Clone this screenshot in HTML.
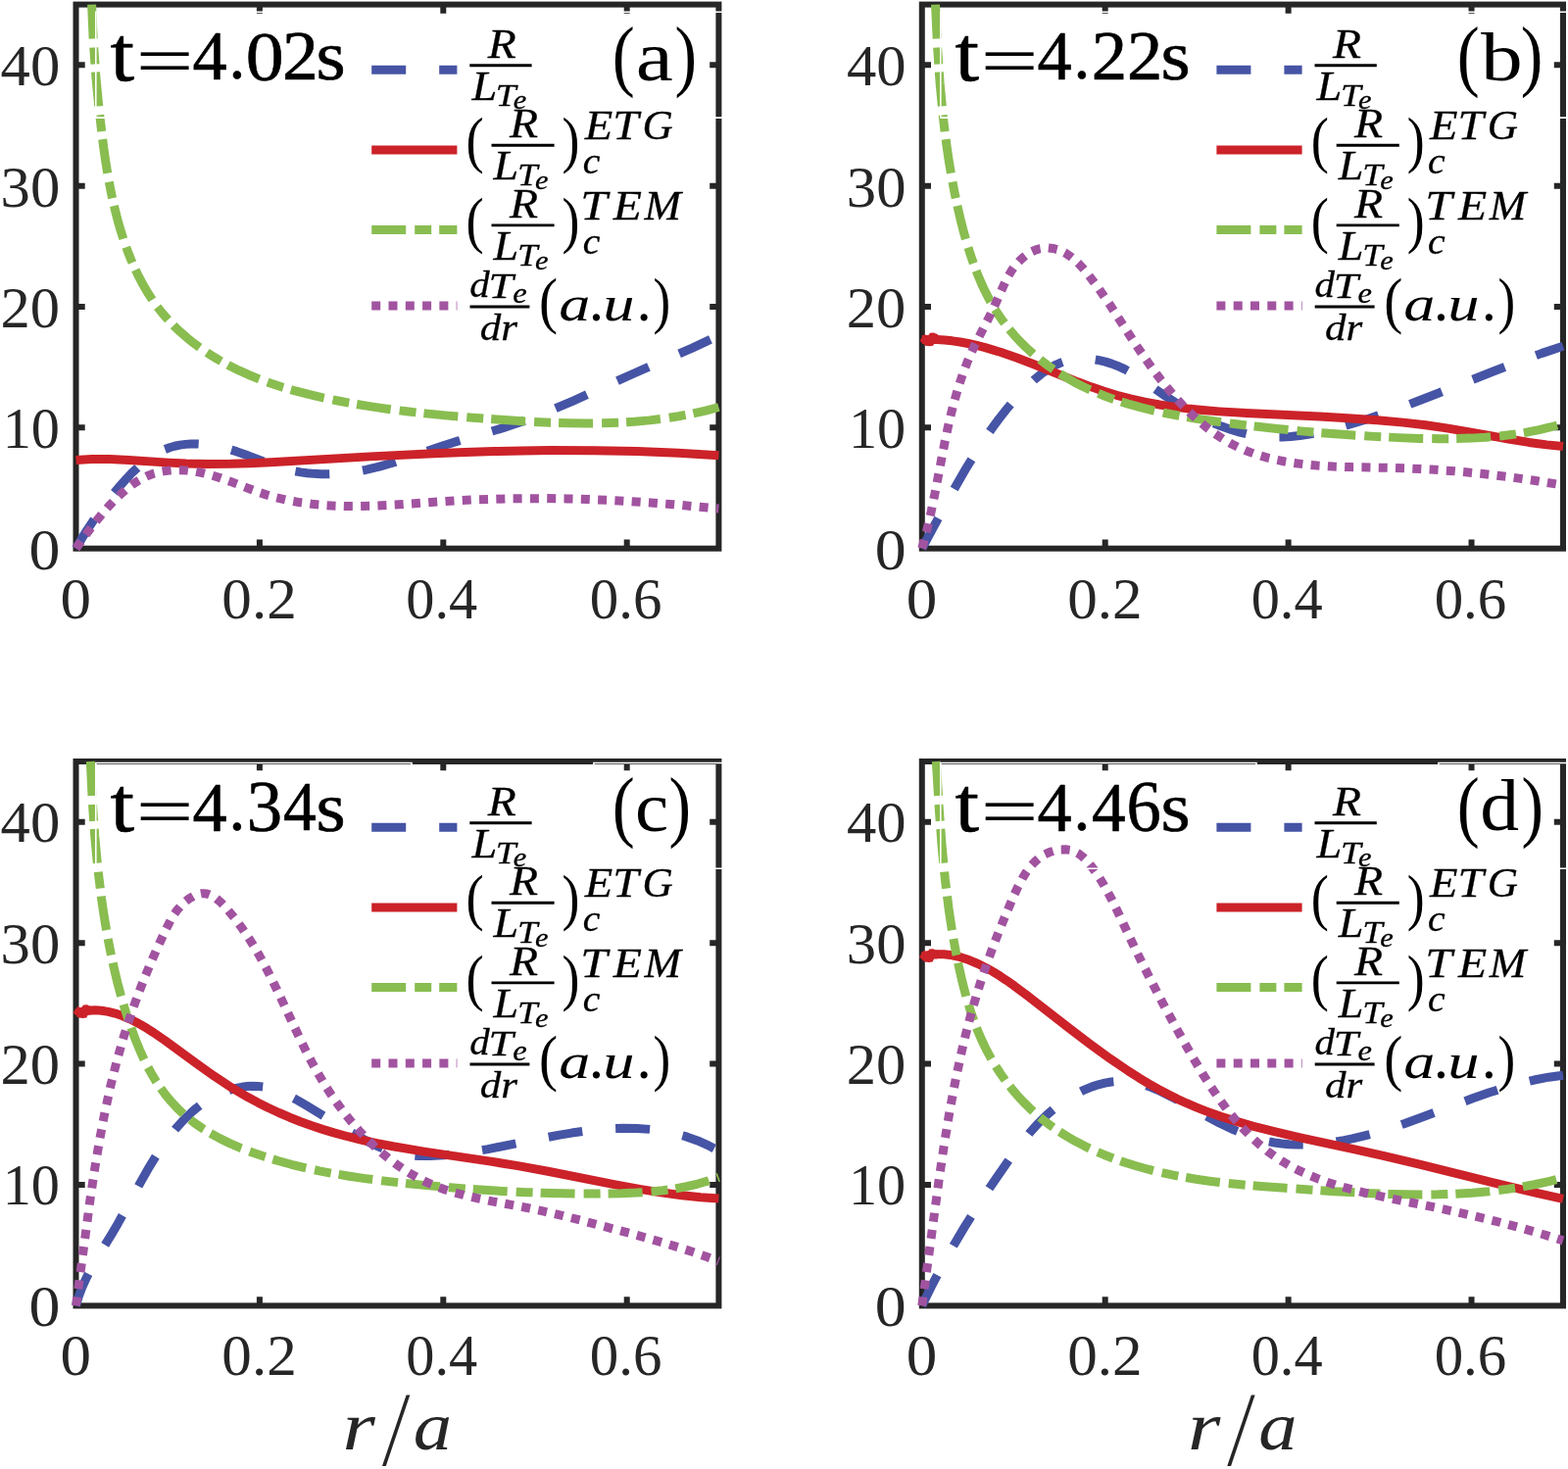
<!DOCTYPE html>
<html><head><meta charset="utf-8"><title>Figure</title>
<style>html,body{margin:0;padding:0;background:#fff;width:1600px;height:1499px;overflow:hidden}svg{display:block}</style>
</head><body>
<svg width="1600" height="1499" viewBox="0 0 1600 1499" font-family="'Liberation Serif', 'Times New Roman', serif">
<rect width="1600" height="1499" fill="#fff"/>
<rect x="77.5" y="4.6" width="655.9" height="555.1" fill="none" stroke="#262626" stroke-width="6"/>
<path d="M77.5,436.34h9.2M733.4,436.34h-9.2M77.5,312.99h9.2M733.4,312.99h-9.2M77.5,189.63h9.2M733.4,189.63h-9.2M77.5,66.28h9.2M733.4,66.28h-9.2M264.9,559.7v-9.2M264.9,4.6v9.2M452.3,559.7v-9.2M452.3,4.6v9.2M639.7,559.7v-9.2M639.7,4.6v9.2" stroke="#262626" stroke-width="6" fill="none"/>
<g fill="none" stroke-width="9.0" stroke-linejoin="round">
<path d="M77.5,559.7 83.34,549.74 89.13,540.44 95.1,531.42 101.3,522.59 108.01,513.59 115.31,504.36 122.78,495.41 129.39,488.01 135.23,481.97 140.73,476.74 146.15,472.09 151.74,467.81 157.21,464.16 162.54,461.14 167.68,458.71 172.97,456.73 178.04,455.27 183.56,454.12 189.17,453.37 194.85,452.99 200.6,452.96 206.76,453.29 212.95,453.96 219.51,455.02 230.06,457.38 241.19,460.68 251.43,464.3 275.79,473.58 288,477.64 293.99,479.27 300.39,480.72 306.83,481.87 313.32,482.74 320.2,483.36 327.48,483.7 334.77,483.74 342.45,483.46 350.13,482.87 357.8,482 365.44,480.85 373.42,479.36 387.07,476.19 401.58,472.01 414.17,467.88 453.1,454.43 467.84,449.9 499.58,440.78 513.28,436.66 527.9,431.85 543.4,426.21 562.84,418.48 584.81,409.07 645.85,381.52 706.38,355.07 733.4,342.5" stroke="#4654A5" stroke-dasharray="35 34"/>
<path d="M77.5,469.5 85.34,468.94 93.84,468.59 112.17,468.61 131.51,469.43 172.21,472.13 189.94,473.04 211.92,473.52 235.54,473.35 254.89,472.78 276.2,471.82 377.53,465.88 442.83,462.68 474.34,461.47 504.21,460.56 533.1,459.94 561.01,459.6 606.65,459.66 650.32,460.53 692.35,462.2 733.4,464.7" stroke="#CC2229"/>
<path d="M93.6,4.6 95.24,41.17 97.79,77.48 101.31,114.15 105.72,150.39 107.76,164.62 109.91,177.9 112.16,190.24 114.58,202.07 117.18,213.39 120.08,224.65 123.03,234.94 126.28,245.15 129.85,255.25 133.59,264.76 137.47,273.68 141.67,282.42 145.98,290.55 150.61,298.46 155.58,306.13 160.62,313.17 165.99,319.95 171.69,326.47 177.69,332.72 183.97,338.7 190.87,344.72 198.05,350.45 205.48,355.89 213.52,361.3 223,367.1 232.73,372.5 243.09,377.7 253.66,382.47 264.84,387.01 276.62,391.3 288.56,395.19 301.51,398.96 315.03,402.47 329.55,405.82 345.02,409.01 361.87,412.11 378.73,414.86 396.51,417.44 414.75,419.76 433.94,421.9 456.83,424.11 482.53,426.25 514.8,428.58 541.17,430.21 561.57,431.17 580.58,431.76 598.19,431.96 614.85,431.79 631.48,431.22 647.59,430.23 662.74,428.87 677.83,427.04 692.4,424.79 706.44,422.13 719.96,419.07 733.4,415.5" stroke="#89BD50" stroke-dasharray="35 9 17 8"/>
<path d="M77.5,559.7 85.38,548.65 92.49,539.07 99.33,530.32 105.9,522.37 112.11,515.33 117.87,509.31 123.6,503.81 129.28,498.91 134.88,494.61 140.36,490.94 146.01,487.73 151.51,485.16 157.16,483.1 162.94,481.54 169.17,480.42 175.5,479.79 183.27,479.65 191.12,480.12 199.36,481.21 207.94,482.91 216.47,485.11 225.24,487.85 234.89,491.3 262.83,501.92 271.73,504.87 280.7,507.44 292.75,510.28 305.23,512.57 318.14,514.32 331.83,515.56 342.49,516.15 353.89,516.46 365.68,516.48 378.21,516.22 403.01,515.07 459.39,511.21 486.61,509.77 522.07,508.74 558.11,508.6 578.52,508.92 599.26,509.51 620.35,510.38 641.78,511.52 663.93,512.96 686.46,514.68 733.4,519" stroke="#A153A0" stroke-dasharray="9 8.3"/>
</g>
<text transform="matrix(0.6381 0 0 0.5926 29.45 580.91)" font-size="100" fill="#262626">0</text>
<text transform="matrix(0.5829 0 0 0.5911 2.65 456.91)" font-size="100" fill="#262626">10</text>
<text transform="matrix(0.6055 0 0 0.5911 0.48 333.91)" font-size="100" fill="#262626">20</text>
<text transform="matrix(0.6066 0 0 0.5956 0.57 210.5)" font-size="100" fill="#262626">30</text>
<text transform="matrix(0.6064 0 0 0.5867 0.59 86.81)" font-size="100" fill="#262626">40</text>
<text transform="matrix(0.6310 0 0 0.5896 61.48 630.71)" font-size="100" fill="#262626">0</text>
<text transform="matrix(0.6113 0 0 0.5971 226.35 631)" font-size="100" fill="#262626">0.2</text>
<text transform="matrix(0.5833 0 0 0.5971 414.32 631)" font-size="100" fill="#262626">0.4</text>
<text transform="matrix(0.5890 0 0 0.5971 601.79 631)" font-size="100" fill="#262626">0.6</text>
<rect x="940.8" y="4.6" width="654.2" height="555.1" fill="none" stroke="#262626" stroke-width="6"/>
<path d="M940.8,436.34h9.2M1595.0,436.34h-9.2M940.8,312.99h9.2M1595.0,312.99h-9.2M940.8,189.63h9.2M1595.0,189.63h-9.2M940.8,66.28h9.2M1595.0,66.28h-9.2M1127.71,559.7v-9.2M1127.71,4.6v9.2M1314.63,559.7v-9.2M1314.63,4.6v9.2M1501.54,559.7v-9.2M1501.54,4.6v9.2" stroke="#262626" stroke-width="6" fill="none"/>
<g fill="none" stroke-width="9.0" stroke-linejoin="round">
<path d="M940.8,559.7 967.56,509.99 976.8,493.49 985.29,478.86 994.07,464.44 1002.76,450.92 1011.15,438.62 1019.28,427.52 1028.12,416.33 1037.27,405.71 1046.76,395.65 1055.38,387.47 1063.2,381.05 1070.73,375.91 1077.89,372.05 1081.4,370.53 1085.34,369.13 1090.8,367.66 1096.75,366.63 1102.77,366.13 1108.86,366.13 1114.97,366.62 1121.47,367.64 1127.93,369.14 1134.32,371.11 1139.14,372.91 1144.24,375.12 1149.24,377.58 1154.12,380.29 1163.92,386.48 1189.04,404.08 1204.51,414.09 1213.28,419.26 1221.58,423.78 1229.73,427.86 1238.07,431.64 1247.31,435.37 1256.33,438.52 1265.07,441.08 1273.91,443.16 1282.41,444.65 1290.55,445.58 1299.11,446.05 1308.06,446.02 1317.03,445.51 1326.38,444.52 1336.1,443.05 1346.58,441.02 1357.41,438.53 1369.32,435.4 1382.67,431.54 1396.65,427.18 1419.46,419.44 1444.97,410.05 1468.83,400.79 1523.69,378.97 1550.19,368.81 1573.59,360.39 1595,353.3" stroke="#4654A5" stroke-dasharray="35 34"/>
<path d="M940.8,346.6 948.52,346.4 956.18,346.55 963.78,347.02 971.66,347.83 979.8,349.01 987.88,350.49 996.56,352.41 1005.18,354.62 1020.72,359.29 1038.03,365.32 1054.93,371.8 1099.96,389.81 1113.5,394.85 1125.85,399.1 1139.57,403.29 1153.42,406.92 1168.03,410.15 1183.4,412.98 1197.22,415.08 1211.77,416.91 1227.38,418.51 1244.04,419.88 1276.46,421.85 1346.65,425.11 1375.66,426.67 1405.28,428.71 1431.84,431.12 1454.69,433.78 1476.15,436.86 1495.26,440.07 1539.38,448.03 1560.17,451.42 1578.38,453.86 1595,455.5" stroke="#CC2229"/>
<path d="M954.5,4.6 956.59,47.82 959.06,84.3 962.18,117.84 964,133.63 966.01,148.94 968.28,164.23 970.83,179.49 973.59,194.26 976.56,208.56 979.83,222.83 983.09,235.68 986.54,248.01 990.07,259.33 993.61,269.64 997.31,279.37 1001.14,288.5 1005.1,297.04 1009.37,305.37 1013.75,313.09 1018.46,320.59 1023.5,327.84 1028.88,334.84 1034.88,341.94 1040.88,348.43 1047.49,354.97 1054.39,361.22 1061.56,367.17 1068.98,372.82 1077.01,378.43 1086.47,384.41 1096.2,389.95 1106.16,395.02 1116.76,399.84 1127.57,404.21 1139.01,408.32 1151.08,412.15 1163.78,415.69 1176.62,418.84 1190.06,421.74 1204.07,424.39 1219.56,426.97 1236.98,429.53 1257.67,432.26 1280.59,435.02 1302.95,437.47 1327.57,439.88 1352.17,442 1376.79,443.82 1401.94,445.37 1427.22,446.62 1448.38,447.38 1467.71,447.71 1485.14,447.62 1501.14,447.12 1516.16,446.24 1530.66,444.94 1544.15,443.29 1557.57,441.17 1570.45,438.65 1582.77,435.73 1595,432.3" stroke="#89BD50" stroke-dasharray="35 9 17 8"/>
<path d="M940.8,559.7 945.53,542.05 950.1,522.28 954.2,502.32 964.07,451.22 967.29,436.02 970.35,422.81 974.22,407.85 978.3,393.99 982.57,381.23 987.19,369.1 990.96,360.25 995.04,351.52 1008.99,324.31 1013.51,315.11 1025.43,288.33 1029.01,281.46 1032.56,275.7 1035.99,271.02 1039.53,266.97 1043.45,263.22 1047.7,259.89 1052.23,257.08 1056.54,255.08 1061.02,253.68 1065.14,253.01 1069.79,252.91 1074.42,253.45 1078.97,254.59 1083.37,256.3 1087.57,258.5 1091.99,261.44 1096.57,265.16 1100.92,269.3 1105.06,273.76 1109.65,279.22 1120.76,293.89 1132.09,310.29 1156.32,347.66 1169.49,367.08 1176.74,377.16 1183.96,386.73 1191.13,395.73 1198.23,404.12 1206.58,413.31 1214.91,421.74 1223.17,429.37 1231.34,436.21 1239.79,442.54 1248.11,448.05 1256.69,453.01 1265.11,457.16 1272.01,460.11 1279.05,462.74 1286.66,465.2 1294.4,467.35 1302.73,469.31 1311.18,470.97 1320.21,472.43 1329.35,473.62 1343.95,475.01 1360.69,476.02 1378.03,476.62 1418.07,477.38 1437.04,477.95 1460.57,479.1 1484.35,480.76 1511.33,483.27 1538.87,486.51 1566.69,490.45 1595,495.1" stroke="#A153A0" stroke-dasharray="9 8.3"/>
<polygon points="938.4,347.8 943.4,341 946.6,343.1 949,339.7 953.1,339.4 954.9,340.6 956.9,340.9 956.9,349.7 953.8,349.4 952.2,352.8 948.4,353.3 944.4,352.8" fill="#CC2229" stroke="none"/>
</g>
<text transform="matrix(0.6381 0 0 0.5926 892.75 580.91)" font-size="100" fill="#262626">0</text>
<text transform="matrix(0.5829 0 0 0.5911 865.95 456.91)" font-size="100" fill="#262626">10</text>
<text transform="matrix(0.6055 0 0 0.5911 863.78 333.91)" font-size="100" fill="#262626">20</text>
<text transform="matrix(0.6066 0 0 0.5956 863.87 210.5)" font-size="100" fill="#262626">30</text>
<text transform="matrix(0.6064 0 0 0.5867 863.89 86.81)" font-size="100" fill="#262626">40</text>
<text transform="matrix(0.6310 0 0 0.5896 924.78 630.71)" font-size="100" fill="#262626">0</text>
<text transform="matrix(0.6113 0 0 0.5971 1089.17 631)" font-size="100" fill="#262626">0.2</text>
<text transform="matrix(0.5833 0 0 0.5971 1276.65 631)" font-size="100" fill="#262626">0.4</text>
<text transform="matrix(0.5890 0 0 0.5971 1463.64 631)" font-size="100" fill="#262626">0.6</text>
<rect x="77.5" y="777.0" width="655.9" height="555.4" fill="none" stroke="#262626" stroke-width="6"/>
<path d="M77.5,1208.98h9.2M733.4,1208.98h-9.2M77.5,1085.56h9.2M733.4,1085.56h-9.2M77.5,962.13h9.2M733.4,962.13h-9.2M77.5,838.71h9.2M733.4,838.71h-9.2M264.9,1332.4v-9.2M264.9,777.0v9.2M452.3,1332.4v-9.2M452.3,777.0v9.2M639.7,1332.4v-9.2M639.7,777.0v9.2" stroke="#262626" stroke-width="6" fill="none"/>
<g fill="none" stroke-width="9.0" stroke-linejoin="round">
<path d="M77.5,1332.4 80.17,1323.2 83.65,1313.88 88.07,1304.06 93.61,1293.38 100.22,1281.86 114.24,1258.83 120.5,1248.16 143.75,1205.82 152.29,1190.83 161.67,1175.63 170.69,1162.59 178.67,1152.4 186.97,1143.14 195.29,1135.14 199.52,1131.55 203.89,1128.15 208.41,1124.96 212.75,1122.19 217.23,1119.63 221.85,1117.27 226.61,1115.14 231.12,1113.4 236.1,1111.76 240.76,1110.5 246.65,1109.3 252.17,1108.57 257.7,1108.27 263.19,1108.4 268.23,1108.94 273.21,1109.9 278.49,1111.34 284.06,1113.29 293.52,1117.46 304.19,1123.11 313.6,1128.6 335.93,1142.28 350.76,1151.07 367.16,1160.42 378.54,1166.41 388.7,1171.05 398.36,1174.61 407.11,1176.98 416.46,1178.61 427.17,1179.52 439.2,1179.61 452.86,1178.86 468.4,1177.25 482.61,1175.24 497.91,1172.61 557.11,1160.7 571.01,1158.12 583.37,1156.07 597.78,1154.04 610.99,1152.59 623.79,1151.65 635.76,1151.24 650.05,1151.44 663.44,1152.39 676.32,1154.12 688.67,1156.63 700.49,1159.9 711.77,1163.92 722.86,1168.84 733.4,1174.5" stroke="#4654A5" stroke-dasharray="35 34"/>
<path d="M77.5,1034 83.77,1032.25 90.32,1031.19 96.8,1030.86 103.54,1031.24 110.52,1032.34 117.39,1034.07 124.79,1036.59 132.36,1039.79 138.25,1042.68 144.05,1045.84 150.08,1049.43 156.62,1053.62 168.59,1061.91 201.71,1086.22 218.89,1098.36 236.14,1109.68 244.4,1114.7 252.83,1119.54 263.26,1125.16 273.88,1130.48 284.68,1135.5 295.62,1140.21 306.36,1144.48 317.52,1148.55 329.09,1152.39 340.74,1155.91 354.8,1159.74 369.3,1163.27 384.55,1166.58 400.91,1169.77 432.79,1175.14 500.69,1185.16 529.93,1189.88 560.4,1195.5 626.62,1208.6 653.97,1213.57 675.93,1217.07 695.91,1219.73 714.95,1221.7 733.4,1223" stroke="#CC2229"/>
<path d="M92.35,777 94.23,816.61 96.66,852.38 99.75,885.68 103.5,916.53 105.74,931.9 108.16,946.78 110.76,961.15 113.62,975.48 116.65,989.31 119.86,1002.63 123.13,1014.97 126.68,1027.25 130.39,1038.99 134.26,1050.2 138.27,1060.87 142.41,1070.99 146.5,1080.08 150.7,1088.56 155,1096.41 159.38,1103.63 164.08,1110.61 169.11,1117.33 174.45,1123.76 180.12,1129.89 186.11,1135.68 192.07,1140.83 198.67,1145.96 205.54,1150.76 214.69,1156.44 224.19,1161.66 234.42,1166.64 245.35,1171.37 257.39,1176 270.05,1180.34 283.69,1184.52 297.4,1188.27 311.16,1191.62 325.89,1194.8 340.68,1197.61 356.44,1200.24 372.72,1202.62 390.44,1204.89 410.08,1207.1 432.59,1209.36 459.37,1211.76 485.73,1213.77 511.65,1215.4 537.12,1216.64 562.14,1217.49 587.15,1217.96 612.15,1218.02 633.82,1217.7 649.33,1217.08 663.39,1216.1 676.46,1214.74 689,1212.93 700.55,1210.75 712.03,1208.03 722.98,1204.83 733.4,1201.2" stroke="#89BD50" stroke-dasharray="35 9 17 8"/>
<path d="M77.5,1332.4 92.05,1223.58 96.8,1191.82 101.53,1163.57 107.1,1134.35 112.95,1107.55 119.33,1082.09 126.4,1057.42 131.07,1042.73 136.24,1027.6 141.74,1012.57 147.57,997.63 153.94,982.25 160.89,966.45 168.94,949.19 173.9,939.4 177.44,933.44 180.78,928.7 184.57,924.23 188.45,920.49 192.75,917.15 197.31,914.42 201.96,912.52 206.06,911.72 208.05,911.67 210.49,911.94 212.87,912.55 215.2,913.45 217.47,914.63 220.13,916.36 225.23,920.65 231.27,927.04 239.53,937.08 247.18,947.39 254.29,957.93 259.45,966.21 264.65,975.1 269.88,984.6 275.14,994.71 284.39,1013.63 306.37,1060.59 312.44,1072.89 318.26,1084.07 324.39,1095.14 330.89,1106.05 337.77,1116.76 344.69,1126.77 351.6,1136.04 358.83,1145.05 366.38,1153.74 373.85,1161.68 381.61,1169.27 389.23,1176.11 397.1,1182.6 405.25,1188.69 412.23,1193.46 418.92,1197.63 425.77,1201.52 432.78,1205.13 439.95,1208.44 446.75,1211.23 454.22,1213.94 462.38,1216.54 475.14,1220.03 489.82,1223.38 503.53,1226.11 536.68,1232.24 554.08,1235.85 573.41,1240.36 595.87,1246.04 646.02,1259.33 678.67,1268.6 693.5,1273.14 707.67,1277.75 720.61,1282.25 733.4,1287" stroke="#A153A0" stroke-dasharray="9 8.3"/>
<polygon points="74.5,1033.6 79.5,1026.8 82.7,1028.9 85.1,1025.5 89.2,1025.2 91,1026.4 93,1026.7 93,1035.5 89.9,1035.2 88.3,1038.6 84.5,1039.1 80.5,1038.6" fill="#CC2229" stroke="none"/>
</g>
<text transform="matrix(0.6381 0 0 0.5926 29.45 1353.31)" font-size="100" fill="#262626">0</text>
<text transform="matrix(0.5829 0 0 0.5911 2.65 1229.31)" font-size="100" fill="#262626">10</text>
<text transform="matrix(0.6055 0 0 0.5911 0.48 1106.31)" font-size="100" fill="#262626">20</text>
<text transform="matrix(0.6066 0 0 0.5956 0.57 982.9)" font-size="100" fill="#262626">30</text>
<text transform="matrix(0.6064 0 0 0.5867 0.59 859.21)" font-size="100" fill="#262626">40</text>
<text transform="matrix(0.6310 0 0 0.5896 61.48 1403.11)" font-size="100" fill="#262626">0</text>
<text transform="matrix(0.6113 0 0 0.5971 226.35 1403.4)" font-size="100" fill="#262626">0.2</text>
<text transform="matrix(0.5833 0 0 0.5971 414.32 1403.4)" font-size="100" fill="#262626">0.4</text>
<text transform="matrix(0.5890 0 0 0.5971 601.79 1403.4)" font-size="100" fill="#262626">0.6</text>
<rect x="940.8" y="777.0" width="654.2" height="555.4" fill="none" stroke="#262626" stroke-width="6"/>
<path d="M940.8,1208.98h9.2M1595.0,1208.98h-9.2M940.8,1085.56h9.2M1595.0,1085.56h-9.2M940.8,962.13h9.2M1595.0,962.13h-9.2M940.8,838.71h9.2M1595.0,838.71h-9.2M1127.71,1332.4v-9.2M1127.71,777.0v9.2M1314.63,1332.4v-9.2M1314.63,777.0v9.2M1501.54,1332.4v-9.2M1501.54,777.0v9.2" stroke="#262626" stroke-width="6" fill="none"/>
<g fill="none" stroke-width="9.0" stroke-linejoin="round">
<path d="M940.8,1332.4 950.37,1312.69 960.84,1292.64 972.05,1272.59 984.18,1252.16 997.88,1230.35 1013,1207.48 1029.79,1183.21 1041.89,1166.86 1050.65,1156.06 1059.39,1146.36 1068.11,1137.78 1076.79,1130.31 1086.06,1123.46 1095.27,1117.73 1104.63,1112.91 1114.35,1108.9 1120.84,1106.8 1127.41,1105.15 1134,1103.99 1140.21,1103.39 1146.4,1103.3 1152.14,1103.7 1158.2,1104.64 1164.2,1106.04 1169.4,1107.62 1174.93,1109.61 1180.78,1112.03 1186.94,1114.89 1199.5,1121.36 1230.95,1138.78 1244.38,1145.91 1259.01,1152.93 1272.08,1158.29 1279.45,1160.84 1286.55,1162.94 1293.74,1164.7 1300.66,1166.01 1308.07,1167.02 1315.56,1167.68 1323.52,1168 1331.52,1167.98 1339.15,1167.66 1346.78,1167.07 1354.78,1166.19 1363.14,1165 1371.43,1163.58 1380.03,1161.84 1397.81,1157.52 1414.95,1152.53 1433.41,1146.43 1452.46,1139.58 1503.39,1120.55 1519.09,1115.08 1533.4,1110.47 1549.74,1105.81 1565.52,1102.02 1580.35,1099.2 1595,1097.2" stroke="#4654A5" stroke-dasharray="35 34"/>
<path d="M940.8,976.2 944.33,975.23 948.2,974.44 955.58,973.64 963.25,973.72 971.53,974.76 980.01,976.74 988.63,979.59 997.98,983.49 1007.36,988.2 1013.77,991.85 1020.68,996.14 1027.47,1000.67 1035.05,1006.04 1048.56,1016.18 1091.57,1049.66 1111.92,1065.14 1132.81,1080.32 1151.7,1093.13 1162.2,1099.81 1172.21,1105.84 1182.04,1111.44 1191.7,1116.59 1201.17,1121.3 1210.78,1125.72 1220.52,1129.87 1230.72,1133.87 1245.73,1139.23 1262,1144.41 1279.16,1149.32 1298.24,1154.23 1325.56,1160.59 1383.6,1173.06 1411.49,1179.36 1446.42,1187.71 1540.49,1210.91 1569.01,1217.58 1595,1223.3" stroke="#CC2229"/>
<path d="M955.35,777 958.32,826.14 961.09,863.1 964.33,896.75 968.07,927.08 970.32,942.45 972.78,957.34 975.42,971.74 978.35,986.12 981.28,999.07 984.28,1011.02 987.47,1022.41 990.72,1032.78 994.12,1042.56 997.84,1052.19 1001.73,1061.23 1005.96,1070.08 1010.56,1078.74 1015.26,1086.79 1020.55,1095.01 1025.9,1102.61 1031.86,1110.34 1037.84,1117.43 1044.11,1124.26 1050.68,1130.81 1057.53,1137.06 1064.66,1143 1072.07,1148.62 1079.72,1153.93 1088.41,1159.42 1097.36,1164.56 1106.96,1169.56 1116.79,1174.19 1126.82,1178.48 1137.46,1182.59 1148.71,1186.49 1160.09,1190.03 1171.56,1193.22 1183.55,1196.18 1196.03,1198.88 1208.98,1201.34 1221.96,1203.46 1235.88,1205.42 1250.75,1207.2 1266.57,1208.8 1286.62,1210.5 1311.86,1212.33 1361.13,1215.64 1391.7,1217.39 1412.88,1218.3 1432.16,1218.83 1450.02,1219 1467.39,1218.81 1485.19,1218.22 1502.48,1217.18 1519.27,1215.71 1535.08,1213.84 1550.37,1211.56 1565.61,1208.77 1580.34,1205.55 1595,1201.8" stroke="#89BD50" stroke-dasharray="35 9 17 8"/>
<path d="M940.8,1332.4 958.6,1200.34 963.85,1165.17 968.98,1134.28 975.08,1101.81 981.65,1071.36 985.13,1056.82 988.84,1042.36 992.63,1028.56 996.48,1015.42 1001.3,1000.09 1006.45,984.86 1012.14,969.12 1018.17,953.36 1025.95,934.11 1034.21,914.67 1038.92,904.47 1043.23,896.33 1047.35,889.73 1051.56,884.12 1055.82,879.48 1060.52,875.42 1065.72,872.02 1070.92,869.57 1076.57,867.81 1081.88,866.92 1087.22,866.81 1091.85,867.43 1096.25,868.82 1100.83,871.29 1105.06,874.55 1109.4,878.87 1113.8,884.18 1118.93,891.29 1122.99,897.47 1126.78,903.73 1134.26,917.49 1139.54,928.22 1152.94,956.85 1162.85,977.35 1174.16,999.92 1185.82,1022.35 1196.36,1041.95 1207.43,1061.9 1218.14,1080.61 1227.03,1095.48 1235.36,1108.61 1243.47,1120.51 1251.71,1131.68 1259.69,1141.63 1267.7,1150.76 1276.12,1159.48 1284.5,1167.27 1293.25,1174.52 1300.43,1179.8 1308.34,1184.99 1316.49,1189.76 1325.39,1194.39 1334.52,1198.6 1344.41,1202.65 1355.07,1206.51 1365.93,1209.99 1382.21,1214.54 1401.11,1219.08 1418.4,1222.77 1472.92,1233.81 1494.45,1238.56 1514.67,1243.33 1535.4,1248.57 1555.56,1254.03 1575.21,1259.75 1595,1265.9" stroke="#A153A0" stroke-dasharray="9 8.3"/>
<polygon points="937.8,976.6 942.8,969.8 946,971.9 948.4,968.5 952.5,968.2 954.3,969.4 956.3,969.7 956.3,978.5 953.2,978.2 951.6,981.6 947.8,982.1 943.8,981.6" fill="#CC2229" stroke="none"/>
</g>
<text transform="matrix(0.6381 0 0 0.5926 892.75 1353.31)" font-size="100" fill="#262626">0</text>
<text transform="matrix(0.5829 0 0 0.5911 865.95 1229.31)" font-size="100" fill="#262626">10</text>
<text transform="matrix(0.6055 0 0 0.5911 863.78 1106.31)" font-size="100" fill="#262626">20</text>
<text transform="matrix(0.6066 0 0 0.5956 863.87 982.9)" font-size="100" fill="#262626">30</text>
<text transform="matrix(0.6064 0 0 0.5867 863.89 859.21)" font-size="100" fill="#262626">40</text>
<text transform="matrix(0.6310 0 0 0.5896 924.78 1403.11)" font-size="100" fill="#262626">0</text>
<text transform="matrix(0.6113 0 0 0.5971 1089.17 1403.4)" font-size="100" fill="#262626">0.2</text>
<text transform="matrix(0.5833 0 0 0.5971 1276.65 1403.4)" font-size="100" fill="#262626">0.4</text>
<text transform="matrix(0.5890 0 0 0.5971 1463.64 1403.4)" font-size="100" fill="#262626">0.6</text>
<g transform="translate(0 0)">
<text transform="matrix(0.8846 0 0 0.7948 112.42 81.51)" font-size="100" stroke="#000" stroke-width="0.71" stroke-linejoin="round" fill="#000">t</text>
<text transform="matrix(1.0409 0 0 0.7040 138.85 86.28)" font-size="100" stroke="#000" stroke-width="0.34" stroke-linejoin="round" fill="#000">=</text>
<text transform="matrix(0.7032 0 0 0.7288 196.39 81.4)" font-size="100" stroke="#000" stroke-width="0.84" stroke-linejoin="round" fill="#000">4</text>
<text transform="matrix(0.6750 0 0 0.6667 233.41 80.4)" font-size="100" stroke="#000" stroke-width="0.89" stroke-linejoin="round" fill="#000">.</text>
<text transform="matrix(0.7786 0 0 0.7259 250.79 81.57)" font-size="100" stroke="#000" stroke-width="0.80" stroke-linejoin="round" fill="#000">0</text>
<text transform="matrix(0.7375 0 0 0.7288 287.88 81.4)" font-size="100" stroke="#000" stroke-width="0.82" stroke-linejoin="round" fill="#000">2</text>
<text transform="matrix(0.7746 0 0 0.7104 322.4 81.49)" font-size="100" stroke="#000" stroke-width="0.81" stroke-linejoin="round" fill="#000">s</text>
<text transform="matrix(0.6902 0 0 0.8022 624.69 82.55)" font-size="100" fill="#000">(</text>
<text transform="matrix(0.8557 0 0 0.7188 648.81 81.78)" font-size="100" fill="#000">a</text>
<text transform="matrix(0.6769 0 0 0.8022 688.47 82.55)" font-size="100" fill="#000">)</text>
<path d="M97.8,12.3H420V120.1H97.8ZM605.9,12.3H745V120.1H605.9Z" fill="none" stroke="#fff" stroke-width="1.6"/>
</g>
<g transform="translate(0 0)">
<path d="M379.2,71.3H466.4" stroke="#4654A5" stroke-width="9" stroke-dasharray="35 34"/>
<path d="M379.2,153.0H466.4" stroke="#CC2229" stroke-width="9"/>
<path d="M379.2,234.4H466.4" stroke="#89BD50" stroke-width="9" stroke-dasharray="35 9 17 8"/>
<path d="M379.2,312.1H466.4" stroke="#A153A0" stroke-width="9" stroke-dasharray="9 8.3"/>
<text transform="matrix(0.4750 0 0 0.4229 497.69 59.14)" font-size="100" font-style="italic" stroke="#000" stroke-width="0.67" stroke-linejoin="round" fill="#000">R</text>
<path d="M479.3,66.7H542.6" stroke="#000" stroke-width="2.9"/>
<text transform="matrix(0.4635 0 0 0.4229 481.41 101.75)" font-size="100" font-style="italic" stroke="#000" stroke-width="0.68" stroke-linejoin="round" fill="#000">L</text>
<text transform="matrix(0.3727 0 0 0.3169 505.83 107.55)" font-size="100" font-style="italic" stroke="#000" stroke-width="0.87" stroke-linejoin="round" fill="#000">T</text>
<text transform="matrix(0.3051 0 0 0.2792 523.83 110.87)" font-size="100" font-style="italic" stroke="#000" stroke-width="1.03" stroke-linejoin="round" fill="#000">e</text>
<text transform="matrix(0.5451 0 0 0.6244 475.45 163.89)" font-size="100" fill="#000">(</text>
<text transform="matrix(0.4767 0 0 0.4122 519.89 140.34)" font-size="100" font-style="italic" stroke="#000" stroke-width="0.68" stroke-linejoin="round" fill="#000">R</text>
<path d="M501.5,148.2H565.6" stroke="#000" stroke-width="2.9"/>
<text transform="matrix(0.4615 0 0 0.4198 503.61 183.15)" font-size="100" font-style="italic" stroke="#000" stroke-width="0.68" stroke-linejoin="round" fill="#000">L</text>
<text transform="matrix(0.3691 0 0 0.3215 527.95 189.45)" font-size="100" font-style="italic" stroke="#000" stroke-width="0.87" stroke-linejoin="round" fill="#000">T</text>
<text transform="matrix(0.3051 0 0 0.2792 546.03 192.87)" font-size="100" font-style="italic" stroke="#000" stroke-width="1.03" stroke-linejoin="round" fill="#000">e</text>
<text transform="matrix(0.5385 0 0 0.6244 573.58 163.89)" font-size="100" fill="#000">)</text>
<text transform="matrix(0.4661 0 0 0.4153 596.82 141.85)" font-size="100" font-style="italic" stroke="#000" stroke-width="0.68" stroke-linejoin="round" fill="#000">E</text>
<text transform="matrix(0.4745 0 0 0.4185 625.27 141.85)" font-size="100" font-style="italic" stroke="#000" stroke-width="0.67" stroke-linejoin="round" fill="#000">T</text>
<text transform="matrix(0.4326 0 0 0.4254 655.47 142.02)" font-size="100" font-style="italic" stroke="#000" stroke-width="0.70" stroke-linejoin="round" fill="#000">G</text>
<text transform="matrix(0.3975 0 0 0.3812 594.76 176.97)" font-size="100" font-style="italic" stroke="#000" stroke-width="0.77" stroke-linejoin="round" fill="#000">c</text>
<text transform="matrix(0.5451 0 0 0.6244 475.45 245.59)" font-size="100" fill="#000">(</text>
<text transform="matrix(0.4767 0 0 0.4122 519.89 222.04)" font-size="100" font-style="italic" stroke="#000" stroke-width="0.68" stroke-linejoin="round" fill="#000">R</text>
<path d="M501.5,229.9H565.6" stroke="#000" stroke-width="2.9"/>
<text transform="matrix(0.4615 0 0 0.4198 503.61 264.85)" font-size="100" font-style="italic" stroke="#000" stroke-width="0.68" stroke-linejoin="round" fill="#000">L</text>
<text transform="matrix(0.3691 0 0 0.3215 527.95 271.15)" font-size="100" font-style="italic" stroke="#000" stroke-width="0.87" stroke-linejoin="round" fill="#000">T</text>
<text transform="matrix(0.3051 0 0 0.2792 546.03 274.57)" font-size="100" font-style="italic" stroke="#000" stroke-width="1.03" stroke-linejoin="round" fill="#000">e</text>
<text transform="matrix(0.5385 0 0 0.6244 573.58 245.59)" font-size="100" fill="#000">)</text>
<text transform="matrix(0.4945 0 0 0.4231 592.14 223.85)" font-size="100" font-style="italic" stroke="#000" stroke-width="0.65" stroke-linejoin="round" fill="#000">T</text>
<text transform="matrix(0.4777 0 0 0.4198 625.73 223.85)" font-size="100" font-style="italic" stroke="#000" stroke-width="0.67" stroke-linejoin="round" fill="#000">E</text>
<text transform="matrix(0.4494 0 0 0.4198 657.6 223.85)" font-size="100" font-style="italic" stroke="#000" stroke-width="0.69" stroke-linejoin="round" fill="#000">M</text>
<text transform="matrix(0.3975 0 0 0.3812 594.76 258.67)" font-size="100" font-style="italic" stroke="#000" stroke-width="0.77" stroke-linejoin="round" fill="#000">c</text>
<text transform="matrix(0.4085 0 0 0.3872 479.22 303.46)" font-size="100" font-style="italic" stroke="#000" stroke-width="0.75" stroke-linejoin="round" fill="#000">d</text>
<text transform="matrix(0.4527 0 0 0.3569 498.61 303.85)" font-size="100" font-style="italic" stroke="#000" stroke-width="0.74" stroke-linejoin="round" fill="#000">T</text>
<text transform="matrix(0.3256 0 0 0.2896 523.37 309.26)" font-size="100" font-style="italic" stroke="#000" stroke-width="0.98" stroke-linejoin="round" fill="#000">e</text>
<path d="M479.5,313H540.4" stroke="#000" stroke-width="2.9"/>
<text transform="matrix(0.4302 0 0 0.3872 489.76 346.56)" font-size="100" font-style="italic" stroke="#000" stroke-width="0.73" stroke-linejoin="round" fill="#000">dr</text>
<text transform="matrix(0.5725 0 0 0.6311 550.02 328.15)" font-size="100" fill="#000">(</text>
<text transform="matrix(0.6419 0 0 0.5083 570.17 327.09)" font-size="100" font-style="italic" fill="#000">a</text>
<text transform="matrix(0.6167 0 0 0.6167 602.13 326.68)" font-size="100" font-style="italic" fill="#000">.</text>
<text transform="matrix(0.6458 0 0 0.5064 615.17 327.09)" font-size="100" font-style="italic" fill="#000">u</text>
<text transform="matrix(0.6083 0 0 0.6167 650.97 326.68)" font-size="100" font-style="italic" fill="#000">.</text>
<text transform="matrix(0.5308 0 0 0.6311 666.41 328.15)" font-size="100" fill="#000">)</text>
</g>
<g transform="translate(862.0 0)">
<text transform="matrix(0.8846 0 0 0.7948 112.42 81.51)" font-size="100" stroke="#000" stroke-width="0.71" stroke-linejoin="round" fill="#000">t</text>
<text transform="matrix(1.0409 0 0 0.7040 138.85 86.28)" font-size="100" stroke="#000" stroke-width="0.34" stroke-linejoin="round" fill="#000">=</text>
<text transform="matrix(0.7032 0 0 0.7288 196.39 81.4)" font-size="100" stroke="#000" stroke-width="0.84" stroke-linejoin="round" fill="#000">4</text>
<text transform="matrix(0.6750 0 0 0.6667 233.41 80.4)" font-size="100" stroke="#000" stroke-width="0.89" stroke-linejoin="round" fill="#000">.</text>
<text transform="matrix(0.7275 0 0 0.7288 251.83 81.4)" font-size="100" stroke="#000" stroke-width="0.82" stroke-linejoin="round" fill="#000">2</text>
<text transform="matrix(0.7250 0 0 0.7288 288.04 81.4)" font-size="100" stroke="#000" stroke-width="0.83" stroke-linejoin="round" fill="#000">2</text>
<text transform="matrix(0.7746 0 0 0.7104 322.4 81.49)" font-size="100" stroke="#000" stroke-width="0.81" stroke-linejoin="round" fill="#000">s</text>
<text transform="matrix(0.6902 0 0 0.8022 624.69 82.55)" font-size="100" fill="#000">(</text>
<text transform="matrix(0.8543 0 0 0.7050 649 81.7)" font-size="100" fill="#000">b</text>
<text transform="matrix(0.6769 0 0 0.8022 689.77 82.55)" font-size="100" fill="#000">)</text>
<path d="M97.8,12.3H420V120.1H97.8ZM605.9,12.3H745V120.1H605.9Z" fill="none" stroke="#fff" stroke-width="1.6"/>
</g>
<g transform="translate(862.2 0)">
<path d="M379.2,71.3H466.4" stroke="#4654A5" stroke-width="9" stroke-dasharray="35 34"/>
<path d="M379.2,153.0H466.4" stroke="#CC2229" stroke-width="9"/>
<path d="M379.2,234.4H466.4" stroke="#89BD50" stroke-width="9" stroke-dasharray="35 9 17 8"/>
<path d="M379.2,312.1H466.4" stroke="#A153A0" stroke-width="9" stroke-dasharray="9 8.3"/>
<text transform="matrix(0.4750 0 0 0.4229 497.69 59.14)" font-size="100" font-style="italic" stroke="#000" stroke-width="0.67" stroke-linejoin="round" fill="#000">R</text>
<path d="M479.3,66.7H542.6" stroke="#000" stroke-width="2.9"/>
<text transform="matrix(0.4635 0 0 0.4229 481.41 101.75)" font-size="100" font-style="italic" stroke="#000" stroke-width="0.68" stroke-linejoin="round" fill="#000">L</text>
<text transform="matrix(0.3727 0 0 0.3169 505.83 107.55)" font-size="100" font-style="italic" stroke="#000" stroke-width="0.87" stroke-linejoin="round" fill="#000">T</text>
<text transform="matrix(0.3051 0 0 0.2792 523.83 110.87)" font-size="100" font-style="italic" stroke="#000" stroke-width="1.03" stroke-linejoin="round" fill="#000">e</text>
<text transform="matrix(0.5451 0 0 0.6244 475.45 163.89)" font-size="100" fill="#000">(</text>
<text transform="matrix(0.4767 0 0 0.4122 519.89 140.34)" font-size="100" font-style="italic" stroke="#000" stroke-width="0.68" stroke-linejoin="round" fill="#000">R</text>
<path d="M501.5,148.2H565.6" stroke="#000" stroke-width="2.9"/>
<text transform="matrix(0.4615 0 0 0.4198 503.61 183.15)" font-size="100" font-style="italic" stroke="#000" stroke-width="0.68" stroke-linejoin="round" fill="#000">L</text>
<text transform="matrix(0.3691 0 0 0.3215 527.95 189.45)" font-size="100" font-style="italic" stroke="#000" stroke-width="0.87" stroke-linejoin="round" fill="#000">T</text>
<text transform="matrix(0.3051 0 0 0.2792 546.03 192.87)" font-size="100" font-style="italic" stroke="#000" stroke-width="1.03" stroke-linejoin="round" fill="#000">e</text>
<text transform="matrix(0.5385 0 0 0.6244 573.58 163.89)" font-size="100" fill="#000">)</text>
<text transform="matrix(0.4661 0 0 0.4153 596.82 141.85)" font-size="100" font-style="italic" stroke="#000" stroke-width="0.68" stroke-linejoin="round" fill="#000">E</text>
<text transform="matrix(0.4745 0 0 0.4185 625.27 141.85)" font-size="100" font-style="italic" stroke="#000" stroke-width="0.67" stroke-linejoin="round" fill="#000">T</text>
<text transform="matrix(0.4326 0 0 0.4254 655.47 142.02)" font-size="100" font-style="italic" stroke="#000" stroke-width="0.70" stroke-linejoin="round" fill="#000">G</text>
<text transform="matrix(0.3975 0 0 0.3812 594.76 176.97)" font-size="100" font-style="italic" stroke="#000" stroke-width="0.77" stroke-linejoin="round" fill="#000">c</text>
<text transform="matrix(0.5451 0 0 0.6244 475.45 245.59)" font-size="100" fill="#000">(</text>
<text transform="matrix(0.4767 0 0 0.4122 519.89 222.04)" font-size="100" font-style="italic" stroke="#000" stroke-width="0.68" stroke-linejoin="round" fill="#000">R</text>
<path d="M501.5,229.9H565.6" stroke="#000" stroke-width="2.9"/>
<text transform="matrix(0.4615 0 0 0.4198 503.61 264.85)" font-size="100" font-style="italic" stroke="#000" stroke-width="0.68" stroke-linejoin="round" fill="#000">L</text>
<text transform="matrix(0.3691 0 0 0.3215 527.95 271.15)" font-size="100" font-style="italic" stroke="#000" stroke-width="0.87" stroke-linejoin="round" fill="#000">T</text>
<text transform="matrix(0.3051 0 0 0.2792 546.03 274.57)" font-size="100" font-style="italic" stroke="#000" stroke-width="1.03" stroke-linejoin="round" fill="#000">e</text>
<text transform="matrix(0.5385 0 0 0.6244 573.58 245.59)" font-size="100" fill="#000">)</text>
<text transform="matrix(0.4945 0 0 0.4231 592.14 223.85)" font-size="100" font-style="italic" stroke="#000" stroke-width="0.65" stroke-linejoin="round" fill="#000">T</text>
<text transform="matrix(0.4777 0 0 0.4198 625.73 223.85)" font-size="100" font-style="italic" stroke="#000" stroke-width="0.67" stroke-linejoin="round" fill="#000">E</text>
<text transform="matrix(0.4494 0 0 0.4198 657.6 223.85)" font-size="100" font-style="italic" stroke="#000" stroke-width="0.69" stroke-linejoin="round" fill="#000">M</text>
<text transform="matrix(0.3975 0 0 0.3812 594.76 258.67)" font-size="100" font-style="italic" stroke="#000" stroke-width="0.77" stroke-linejoin="round" fill="#000">c</text>
<text transform="matrix(0.4085 0 0 0.3872 479.22 303.46)" font-size="100" font-style="italic" stroke="#000" stroke-width="0.75" stroke-linejoin="round" fill="#000">d</text>
<text transform="matrix(0.4527 0 0 0.3569 498.61 303.85)" font-size="100" font-style="italic" stroke="#000" stroke-width="0.74" stroke-linejoin="round" fill="#000">T</text>
<text transform="matrix(0.3256 0 0 0.2896 523.37 309.26)" font-size="100" font-style="italic" stroke="#000" stroke-width="0.98" stroke-linejoin="round" fill="#000">e</text>
<path d="M479.5,313H540.4" stroke="#000" stroke-width="2.9"/>
<text transform="matrix(0.4302 0 0 0.3872 489.76 346.56)" font-size="100" font-style="italic" stroke="#000" stroke-width="0.73" stroke-linejoin="round" fill="#000">dr</text>
<text transform="matrix(0.5725 0 0 0.6311 550.02 328.15)" font-size="100" fill="#000">(</text>
<text transform="matrix(0.6419 0 0 0.5083 570.17 327.09)" font-size="100" font-style="italic" fill="#000">a</text>
<text transform="matrix(0.6167 0 0 0.6167 602.13 326.68)" font-size="100" font-style="italic" fill="#000">.</text>
<text transform="matrix(0.6458 0 0 0.5064 615.17 327.09)" font-size="100" font-style="italic" fill="#000">u</text>
<text transform="matrix(0.6083 0 0 0.6167 650.97 326.68)" font-size="100" font-style="italic" fill="#000">.</text>
<text transform="matrix(0.5308 0 0 0.6311 666.41 328.15)" font-size="100" fill="#000">)</text>
</g>
<g transform="translate(0 766.2)">
<text transform="matrix(0.8846 0 0 0.7948 112.42 81.51)" font-size="100" stroke="#000" stroke-width="0.71" stroke-linejoin="round" fill="#000">t</text>
<text transform="matrix(1.0409 0 0 0.7040 138.85 86.28)" font-size="100" stroke="#000" stroke-width="0.34" stroke-linejoin="round" fill="#000">=</text>
<text transform="matrix(0.7032 0 0 0.7288 196.39 81.4)" font-size="100" stroke="#000" stroke-width="0.84" stroke-linejoin="round" fill="#000">4</text>
<text transform="matrix(0.6750 0 0 0.6667 233.41 80.4)" font-size="100" stroke="#000" stroke-width="0.89" stroke-linejoin="round" fill="#000">.</text>
<text transform="matrix(0.7268 0 0 0.7299 251.87 81.37)" font-size="100" stroke="#000" stroke-width="0.82" stroke-linejoin="round" fill="#000">3</text>
<text transform="matrix(0.6774 0 0 0.7258 289.05 81.1)" font-size="100" stroke="#000" stroke-width="0.86" stroke-linejoin="round" fill="#000">4</text>
<text transform="matrix(0.7746 0 0 0.7104 322.4 81.49)" font-size="100" stroke="#000" stroke-width="0.81" stroke-linejoin="round" fill="#000">s</text>
<text transform="matrix(0.6902 0 0 0.8022 624.69 82.55)" font-size="100" fill="#000">(</text>
<text transform="matrix(0.7707 0 0 0.7167 647.92 81.78)" font-size="100" fill="#000">c</text>
<text transform="matrix(0.6769 0 0 0.8022 682.47 82.55)" font-size="100" fill="#000">)</text>
<path d="M97.8,12.3H420V120.1H97.8ZM605.9,12.3H745V120.1H605.9Z" fill="none" stroke="#fff" stroke-width="1.6"/>
</g>
<g transform="translate(0 773.0)">
<path d="M379.2,71.3H466.4" stroke="#4654A5" stroke-width="9" stroke-dasharray="35 34"/>
<path d="M379.2,153.0H466.4" stroke="#CC2229" stroke-width="9"/>
<path d="M379.2,234.4H466.4" stroke="#89BD50" stroke-width="9" stroke-dasharray="35 9 17 8"/>
<path d="M379.2,312.1H466.4" stroke="#A153A0" stroke-width="9" stroke-dasharray="9 8.3"/>
<text transform="matrix(0.4750 0 0 0.4229 497.69 59.14)" font-size="100" font-style="italic" stroke="#000" stroke-width="0.67" stroke-linejoin="round" fill="#000">R</text>
<path d="M479.3,66.7H542.6" stroke="#000" stroke-width="2.9"/>
<text transform="matrix(0.4635 0 0 0.4229 481.41 101.75)" font-size="100" font-style="italic" stroke="#000" stroke-width="0.68" stroke-linejoin="round" fill="#000">L</text>
<text transform="matrix(0.3727 0 0 0.3169 505.83 107.55)" font-size="100" font-style="italic" stroke="#000" stroke-width="0.87" stroke-linejoin="round" fill="#000">T</text>
<text transform="matrix(0.3051 0 0 0.2792 523.83 110.87)" font-size="100" font-style="italic" stroke="#000" stroke-width="1.03" stroke-linejoin="round" fill="#000">e</text>
<text transform="matrix(0.5451 0 0 0.6244 475.45 163.89)" font-size="100" fill="#000">(</text>
<text transform="matrix(0.4767 0 0 0.4122 519.89 140.34)" font-size="100" font-style="italic" stroke="#000" stroke-width="0.68" stroke-linejoin="round" fill="#000">R</text>
<path d="M501.5,148.2H565.6" stroke="#000" stroke-width="2.9"/>
<text transform="matrix(0.4615 0 0 0.4198 503.61 183.15)" font-size="100" font-style="italic" stroke="#000" stroke-width="0.68" stroke-linejoin="round" fill="#000">L</text>
<text transform="matrix(0.3691 0 0 0.3215 527.95 189.45)" font-size="100" font-style="italic" stroke="#000" stroke-width="0.87" stroke-linejoin="round" fill="#000">T</text>
<text transform="matrix(0.3051 0 0 0.2792 546.03 192.87)" font-size="100" font-style="italic" stroke="#000" stroke-width="1.03" stroke-linejoin="round" fill="#000">e</text>
<text transform="matrix(0.5385 0 0 0.6244 573.58 163.89)" font-size="100" fill="#000">)</text>
<text transform="matrix(0.4661 0 0 0.4153 596.82 141.85)" font-size="100" font-style="italic" stroke="#000" stroke-width="0.68" stroke-linejoin="round" fill="#000">E</text>
<text transform="matrix(0.4745 0 0 0.4185 625.27 141.85)" font-size="100" font-style="italic" stroke="#000" stroke-width="0.67" stroke-linejoin="round" fill="#000">T</text>
<text transform="matrix(0.4326 0 0 0.4254 655.47 142.02)" font-size="100" font-style="italic" stroke="#000" stroke-width="0.70" stroke-linejoin="round" fill="#000">G</text>
<text transform="matrix(0.3975 0 0 0.3812 594.76 176.97)" font-size="100" font-style="italic" stroke="#000" stroke-width="0.77" stroke-linejoin="round" fill="#000">c</text>
<text transform="matrix(0.5451 0 0 0.6244 475.45 245.59)" font-size="100" fill="#000">(</text>
<text transform="matrix(0.4767 0 0 0.4122 519.89 222.04)" font-size="100" font-style="italic" stroke="#000" stroke-width="0.68" stroke-linejoin="round" fill="#000">R</text>
<path d="M501.5,229.9H565.6" stroke="#000" stroke-width="2.9"/>
<text transform="matrix(0.4615 0 0 0.4198 503.61 264.85)" font-size="100" font-style="italic" stroke="#000" stroke-width="0.68" stroke-linejoin="round" fill="#000">L</text>
<text transform="matrix(0.3691 0 0 0.3215 527.95 271.15)" font-size="100" font-style="italic" stroke="#000" stroke-width="0.87" stroke-linejoin="round" fill="#000">T</text>
<text transform="matrix(0.3051 0 0 0.2792 546.03 274.57)" font-size="100" font-style="italic" stroke="#000" stroke-width="1.03" stroke-linejoin="round" fill="#000">e</text>
<text transform="matrix(0.5385 0 0 0.6244 573.58 245.59)" font-size="100" fill="#000">)</text>
<text transform="matrix(0.4945 0 0 0.4231 592.14 223.85)" font-size="100" font-style="italic" stroke="#000" stroke-width="0.65" stroke-linejoin="round" fill="#000">T</text>
<text transform="matrix(0.4777 0 0 0.4198 625.73 223.85)" font-size="100" font-style="italic" stroke="#000" stroke-width="0.67" stroke-linejoin="round" fill="#000">E</text>
<text transform="matrix(0.4494 0 0 0.4198 657.6 223.85)" font-size="100" font-style="italic" stroke="#000" stroke-width="0.69" stroke-linejoin="round" fill="#000">M</text>
<text transform="matrix(0.3975 0 0 0.3812 594.76 258.67)" font-size="100" font-style="italic" stroke="#000" stroke-width="0.77" stroke-linejoin="round" fill="#000">c</text>
<text transform="matrix(0.4085 0 0 0.3872 479.22 303.46)" font-size="100" font-style="italic" stroke="#000" stroke-width="0.75" stroke-linejoin="round" fill="#000">d</text>
<text transform="matrix(0.4527 0 0 0.3569 498.61 303.85)" font-size="100" font-style="italic" stroke="#000" stroke-width="0.74" stroke-linejoin="round" fill="#000">T</text>
<text transform="matrix(0.3256 0 0 0.2896 523.37 309.26)" font-size="100" font-style="italic" stroke="#000" stroke-width="0.98" stroke-linejoin="round" fill="#000">e</text>
<path d="M479.5,313H540.4" stroke="#000" stroke-width="2.9"/>
<text transform="matrix(0.4302 0 0 0.3872 489.76 346.56)" font-size="100" font-style="italic" stroke="#000" stroke-width="0.73" stroke-linejoin="round" fill="#000">dr</text>
<text transform="matrix(0.5725 0 0 0.6311 550.02 328.15)" font-size="100" fill="#000">(</text>
<text transform="matrix(0.6419 0 0 0.5083 570.17 327.09)" font-size="100" font-style="italic" fill="#000">a</text>
<text transform="matrix(0.6167 0 0 0.6167 602.13 326.68)" font-size="100" font-style="italic" fill="#000">.</text>
<text transform="matrix(0.6458 0 0 0.5064 615.17 327.09)" font-size="100" font-style="italic" fill="#000">u</text>
<text transform="matrix(0.6083 0 0 0.6167 650.97 326.68)" font-size="100" font-style="italic" fill="#000">.</text>
<text transform="matrix(0.5308 0 0 0.6311 666.41 328.15)" font-size="100" fill="#000">)</text>
</g>
<g transform="translate(862.0 766.2)">
<text transform="matrix(0.8846 0 0 0.7948 112.42 81.51)" font-size="100" stroke="#000" stroke-width="0.71" stroke-linejoin="round" fill="#000">t</text>
<text transform="matrix(1.0409 0 0 0.7040 138.85 86.28)" font-size="100" stroke="#000" stroke-width="0.34" stroke-linejoin="round" fill="#000">=</text>
<text transform="matrix(0.7032 0 0 0.7288 196.39 81.4)" font-size="100" stroke="#000" stroke-width="0.84" stroke-linejoin="round" fill="#000">4</text>
<text transform="matrix(0.6750 0 0 0.6667 233.41 80.4)" font-size="100" stroke="#000" stroke-width="0.89" stroke-linejoin="round" fill="#000">.</text>
<text transform="matrix(0.6946 0 0 0.7288 252.11 81.3)" font-size="100" stroke="#000" stroke-width="0.84" stroke-linejoin="round" fill="#000">4</text>
<text transform="matrix(0.7047 0 0 0.7418 287.58 81.76)" font-size="100" stroke="#000" stroke-width="0.83" stroke-linejoin="round" fill="#000">6</text>
<text transform="matrix(0.7746 0 0 0.7104 322.4 81.49)" font-size="100" stroke="#000" stroke-width="0.81" stroke-linejoin="round" fill="#000">s</text>
<text transform="matrix(0.6902 0 0 0.8022 624.69 82.55)" font-size="100" fill="#000">(</text>
<text transform="matrix(0.7956 0 0 0.7305 648.22 81.27)" font-size="100" fill="#000">d</text>
<text transform="matrix(0.6769 0 0 0.8022 690.47 82.55)" font-size="100" fill="#000">)</text>
<path d="M97.8,12.3H420V120.1H97.8ZM605.9,12.3H745V120.1H605.9Z" fill="none" stroke="#fff" stroke-width="1.6"/>
</g>
<g transform="translate(862.2 773.0)">
<path d="M379.2,71.3H466.4" stroke="#4654A5" stroke-width="9" stroke-dasharray="35 34"/>
<path d="M379.2,153.0H466.4" stroke="#CC2229" stroke-width="9"/>
<path d="M379.2,234.4H466.4" stroke="#89BD50" stroke-width="9" stroke-dasharray="35 9 17 8"/>
<path d="M379.2,312.1H466.4" stroke="#A153A0" stroke-width="9" stroke-dasharray="9 8.3"/>
<text transform="matrix(0.4750 0 0 0.4229 497.69 59.14)" font-size="100" font-style="italic" stroke="#000" stroke-width="0.67" stroke-linejoin="round" fill="#000">R</text>
<path d="M479.3,66.7H542.6" stroke="#000" stroke-width="2.9"/>
<text transform="matrix(0.4635 0 0 0.4229 481.41 101.75)" font-size="100" font-style="italic" stroke="#000" stroke-width="0.68" stroke-linejoin="round" fill="#000">L</text>
<text transform="matrix(0.3727 0 0 0.3169 505.83 107.55)" font-size="100" font-style="italic" stroke="#000" stroke-width="0.87" stroke-linejoin="round" fill="#000">T</text>
<text transform="matrix(0.3051 0 0 0.2792 523.83 110.87)" font-size="100" font-style="italic" stroke="#000" stroke-width="1.03" stroke-linejoin="round" fill="#000">e</text>
<text transform="matrix(0.5451 0 0 0.6244 475.45 163.89)" font-size="100" fill="#000">(</text>
<text transform="matrix(0.4767 0 0 0.4122 519.89 140.34)" font-size="100" font-style="italic" stroke="#000" stroke-width="0.68" stroke-linejoin="round" fill="#000">R</text>
<path d="M501.5,148.2H565.6" stroke="#000" stroke-width="2.9"/>
<text transform="matrix(0.4615 0 0 0.4198 503.61 183.15)" font-size="100" font-style="italic" stroke="#000" stroke-width="0.68" stroke-linejoin="round" fill="#000">L</text>
<text transform="matrix(0.3691 0 0 0.3215 527.95 189.45)" font-size="100" font-style="italic" stroke="#000" stroke-width="0.87" stroke-linejoin="round" fill="#000">T</text>
<text transform="matrix(0.3051 0 0 0.2792 546.03 192.87)" font-size="100" font-style="italic" stroke="#000" stroke-width="1.03" stroke-linejoin="round" fill="#000">e</text>
<text transform="matrix(0.5385 0 0 0.6244 573.58 163.89)" font-size="100" fill="#000">)</text>
<text transform="matrix(0.4661 0 0 0.4153 596.82 141.85)" font-size="100" font-style="italic" stroke="#000" stroke-width="0.68" stroke-linejoin="round" fill="#000">E</text>
<text transform="matrix(0.4745 0 0 0.4185 625.27 141.85)" font-size="100" font-style="italic" stroke="#000" stroke-width="0.67" stroke-linejoin="round" fill="#000">T</text>
<text transform="matrix(0.4326 0 0 0.4254 655.47 142.02)" font-size="100" font-style="italic" stroke="#000" stroke-width="0.70" stroke-linejoin="round" fill="#000">G</text>
<text transform="matrix(0.3975 0 0 0.3812 594.76 176.97)" font-size="100" font-style="italic" stroke="#000" stroke-width="0.77" stroke-linejoin="round" fill="#000">c</text>
<text transform="matrix(0.5451 0 0 0.6244 475.45 245.59)" font-size="100" fill="#000">(</text>
<text transform="matrix(0.4767 0 0 0.4122 519.89 222.04)" font-size="100" font-style="italic" stroke="#000" stroke-width="0.68" stroke-linejoin="round" fill="#000">R</text>
<path d="M501.5,229.9H565.6" stroke="#000" stroke-width="2.9"/>
<text transform="matrix(0.4615 0 0 0.4198 503.61 264.85)" font-size="100" font-style="italic" stroke="#000" stroke-width="0.68" stroke-linejoin="round" fill="#000">L</text>
<text transform="matrix(0.3691 0 0 0.3215 527.95 271.15)" font-size="100" font-style="italic" stroke="#000" stroke-width="0.87" stroke-linejoin="round" fill="#000">T</text>
<text transform="matrix(0.3051 0 0 0.2792 546.03 274.57)" font-size="100" font-style="italic" stroke="#000" stroke-width="1.03" stroke-linejoin="round" fill="#000">e</text>
<text transform="matrix(0.5385 0 0 0.6244 573.58 245.59)" font-size="100" fill="#000">)</text>
<text transform="matrix(0.4945 0 0 0.4231 592.14 223.85)" font-size="100" font-style="italic" stroke="#000" stroke-width="0.65" stroke-linejoin="round" fill="#000">T</text>
<text transform="matrix(0.4777 0 0 0.4198 625.73 223.85)" font-size="100" font-style="italic" stroke="#000" stroke-width="0.67" stroke-linejoin="round" fill="#000">E</text>
<text transform="matrix(0.4494 0 0 0.4198 657.6 223.85)" font-size="100" font-style="italic" stroke="#000" stroke-width="0.69" stroke-linejoin="round" fill="#000">M</text>
<text transform="matrix(0.3975 0 0 0.3812 594.76 258.67)" font-size="100" font-style="italic" stroke="#000" stroke-width="0.77" stroke-linejoin="round" fill="#000">c</text>
<text transform="matrix(0.4085 0 0 0.3872 479.22 303.46)" font-size="100" font-style="italic" stroke="#000" stroke-width="0.75" stroke-linejoin="round" fill="#000">d</text>
<text transform="matrix(0.4527 0 0 0.3569 498.61 303.85)" font-size="100" font-style="italic" stroke="#000" stroke-width="0.74" stroke-linejoin="round" fill="#000">T</text>
<text transform="matrix(0.3256 0 0 0.2896 523.37 309.26)" font-size="100" font-style="italic" stroke="#000" stroke-width="0.98" stroke-linejoin="round" fill="#000">e</text>
<path d="M479.5,313H540.4" stroke="#000" stroke-width="2.9"/>
<text transform="matrix(0.4302 0 0 0.3872 489.76 346.56)" font-size="100" font-style="italic" stroke="#000" stroke-width="0.73" stroke-linejoin="round" fill="#000">dr</text>
<text transform="matrix(0.5725 0 0 0.6311 550.02 328.15)" font-size="100" fill="#000">(</text>
<text transform="matrix(0.6419 0 0 0.5083 570.17 327.09)" font-size="100" font-style="italic" fill="#000">a</text>
<text transform="matrix(0.6167 0 0 0.6167 602.13 326.68)" font-size="100" font-style="italic" fill="#000">.</text>
<text transform="matrix(0.6458 0 0 0.5064 615.17 327.09)" font-size="100" font-style="italic" fill="#000">u</text>
<text transform="matrix(0.6083 0 0 0.6167 650.97 326.68)" font-size="100" font-style="italic" fill="#000">.</text>
<text transform="matrix(0.5308 0 0 0.6311 666.41 328.15)" font-size="100" fill="#000">)</text>
</g>
<g transform="translate(0 0)">
<text transform="matrix(0.8571 0 0 0.6968 349.57 1478.75)" font-size="100" font-style="italic" fill="#262626">r</text>
<text transform="matrix(0.7089 0 0 1.0746 393.19 1494.93)" font-size="100" font-style="italic" fill="#262626">/</text>
<text transform="matrix(0.7860 0 0 0.6917 421.84 1478.51)" font-size="100" font-style="italic" fill="#262626">a</text>
</g>
<g transform="translate(862.4 0)">
<text transform="matrix(0.8571 0 0 0.6968 349.57 1478.75)" font-size="100" font-style="italic" fill="#262626">r</text>
<text transform="matrix(0.7089 0 0 1.0746 393.19 1494.93)" font-size="100" font-style="italic" fill="#262626">/</text>
<text transform="matrix(0.7860 0 0 0.6917 421.84 1478.51)" font-size="100" font-style="italic" fill="#262626">a</text>
</g>
</svg>
</body></html>
